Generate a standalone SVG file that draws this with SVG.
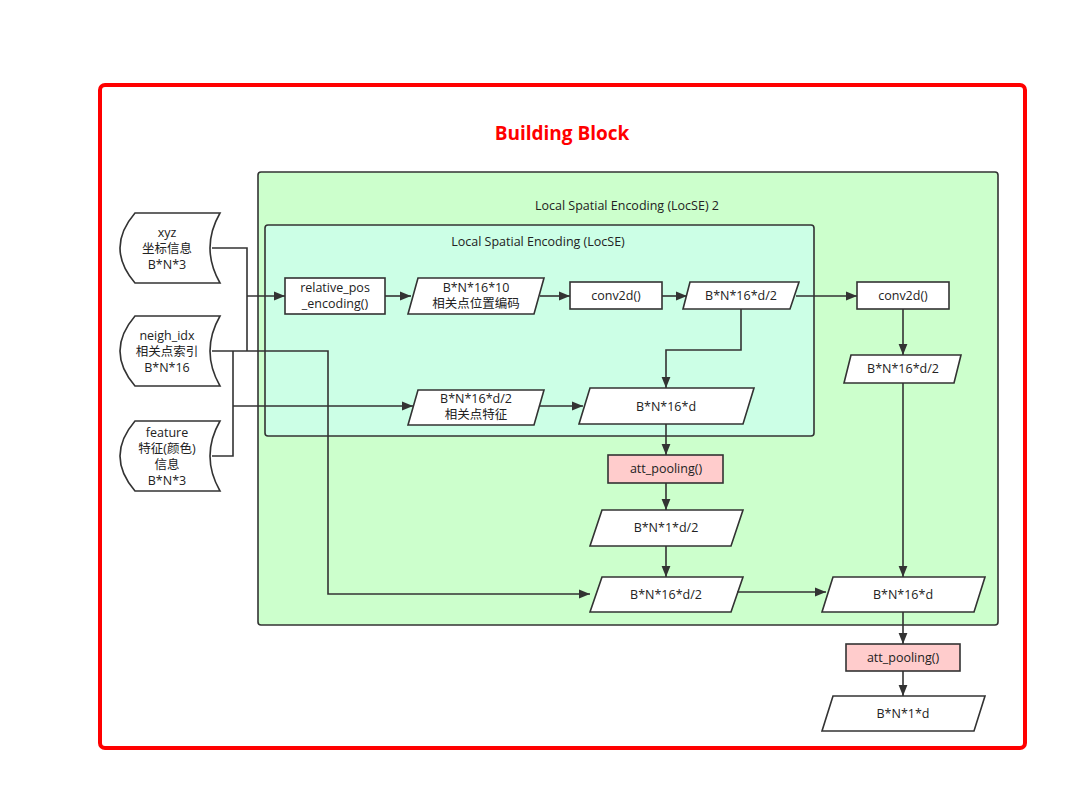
<svg xmlns="http://www.w3.org/2000/svg" width="1086" height="812" viewBox="0 0 1086 812">
<defs>
<marker id="ah" viewBox="0 0 10 10" refX="10" refY="5" markerWidth="11" markerHeight="11" markerUnits="userSpaceOnUse" orient="auto"><path d="M0,1 L10,5 L0,9 z" fill="#333"/></marker>
<style>
text{font-family:"Open Sans","Noto Sans","Noto Sans CJK SC",sans-serif;font-size:12.5px;fill:#222;text-anchor:middle}
.n{fill:#fff;stroke:#333;stroke-width:1.6}
.p{fill:#ffcccc;stroke:#333;stroke-width:1.6}
.c path,.c polyline{fill:none;stroke:#333;stroke-width:1.6}
.a{marker-end:url(#ah)}
</style>
</defs>
<rect width="1086" height="812" fill="#fff"/>
<rect x="100" y="85" width="925" height="663" rx="5" fill="none" stroke="#ff0000" stroke-width="4"/>
<text x="562" y="140" style="font-size:19px;font-weight:bold;fill:#ff0000">Building Block</text>
<g id="locse2"><rect x="258" y="172" width="740" height="453" rx="3" fill="#ccffcc" stroke="#333" stroke-width="1.6"/>
<text x="627" y="210">Local Spatial Encoding (LocSE) 2</text></g>
<g id="locse"><rect x="265" y="225" width="549" height="211" rx="3" fill="#ccffe6" stroke="#333" stroke-width="1.6"/>
<text x="538" y="246">Local Spatial Encoding (LocSE)</text></g>
<g id="xyz"><path class="n" d="M135,213 H220 Q200,248 220,283 H135 Q105,248 135,213 z"/><text x="167" y="237">xyz</text><text x="167" y="253">坐标信息</text><text x="167" y="269">B*N*3</text></g>
<g id="neigh"><path class="n" d="M135,316 H220 Q200,351 220,386 H135 Q105,351 135,316 z"/><text x="167" y="340">neigh_idx</text><text x="167" y="356">相关点索引</text><text x="167" y="372">B*N*16</text></g>
<g id="feature"><path class="n" d="M135,421 H220 Q200,456 220,491 H135 Q105,456 135,421 z"/><text x="167" y="437">feature</text><text x="167" y="453">特征(颜色)</text><text x="167" y="469">信息</text><text x="167" y="485">B*N*3</text></g>
<g id="relpos"><rect class="n" x="285" y="278" width="100" height="36"/><text x="335" y="292">relative_pos</text><text x="335" y="308">_encoding()</text></g>
<g id="p10"><polygon class="n" points="418,278 544,278 534,314 408,314"/><text x="476" y="292">B*N*16*10</text><text x="476" y="308">相关点位置编码</text></g>
<g id="conv1"><rect class="n" x="570" y="282" width="92" height="27"/><text x="616" y="300">conv2d()</text></g>
<g id="pd2a"><polygon class="n" points="690,282 799,282 790,309 683,309"/><text x="741" y="300">B*N*16*d/2</text></g>
<g id="conv2"><rect class="n" x="857" y="282" width="92" height="27"/><text x="903" y="300">conv2d()</text></g>
<g id="pd2b"><polygon class="n" points="851,355 961,355 954,383 844,383"/><text x="903" y="373">B*N*16*d/2</text></g>
<g id="pfeat"><polygon class="n" points="418,390 544,390 534,425 408,425"/><text x="476" y="403">B*N*16*d/2</text><text x="476" y="419">相关点特征</text></g>
<g id="pd"><polygon class="n" points="590,388 754,388 743,424 579,424"/><text x="666" y="411">B*N*16*d</text></g>
<g id="att1"><rect class="p" x="608" y="455" width="115" height="28"/><text x="666" y="473">att_pooling()</text></g>
<g id="p1d2"><polygon class="n" points="602,510 743,510 731,546 590,546"/><text x="666" y="532">B*N*1*d/2</text></g>
<g id="p16d2"><polygon class="n" points="602,577 743,577 731,612 590,612"/><text x="666" y="599">B*N*16*d/2</text></g>
<g id="p16d"><polygon class="n" points="833,577 985,577 974,612 822,612"/><text x="903" y="599">B*N*16*d</text></g>
<g id="att2"><rect class="p" x="846" y="644" width="114" height="27"/><text x="903" y="662">att_pooling()</text></g>
<g id="p1d"><polygon class="n" points="833,696 985,696 974,731 822,731"/><text x="903" y="718">B*N*1*d</text></g>
<g class="c" id="connectors">
<polyline points="212,248 247,248 247,351"/>
<polyline class="a" points="247,296 285,296"/>
<polyline class="a" points="212,351 328,351 328,594 590,594"/>
<polyline points="212,456 233,456 233,351"/>
<polyline class="a" points="233,406 413,406"/>
<polyline class="a" points="385,296 411,296"/>
<polyline class="a" points="540,296 570,296"/>
<polyline class="a" points="662,296 687,296"/>
<polyline class="a" points="796,296 857,296"/>
<polyline class="a" points="741,309 741,350 666,350 666,388"/>
<polyline class="a" points="540,406 583,406"/>
<polyline class="a" points="666,424 666,455"/>
<polyline class="a" points="666,483 666,510"/>
<polyline class="a" points="666,546 666,577"/>
<polyline class="a" points="737,592 826,592"/>
<polyline class="a" points="903,309 903,355"/>
<polyline class="a" points="903,383 903,577"/>
<polyline class="a" points="903,612 903,644"/>
<polyline class="a" points="903,671 903,696"/>
</g>
</svg>
